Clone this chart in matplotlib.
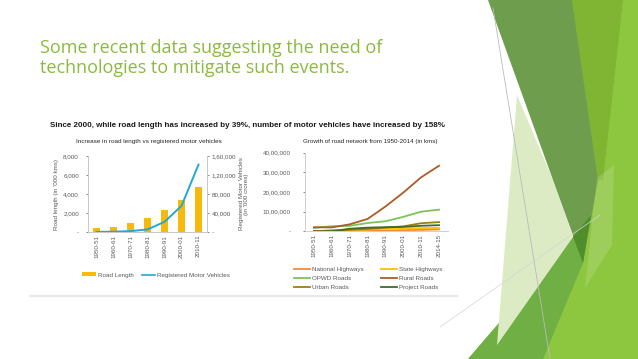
import matplotlib
matplotlib.use("Agg")
import matplotlib.pyplot as plt
from matplotlib.patches import Polygon, Patch
from matplotlib.lines import Line2D

# ---------------- data ----------------
title_text = "Some recent data suggesting the need of\ntechnologies to mitigate such events."
header_text = ("Since 2000, while road length has increased by 39%, "
               "number of motor vehicles have increased by 158%")

left_title = "Increase in road length vs registered motor vehicles"
left_years = ["1950-51", "1960-61", "1970-71", "1980-81", "1990-91", "2000-01", "2010-11"]
road_length = [400, 524, 915, 1485, 2327, 3374, 4690]            # '000 km
motor_vehicles = [306, 665, 1865, 5391, 21374, 54991, 141866]    # '000
left_yticks = [0, 2000, 4000, 6000, 8000]
left_yticklabels = ["-", "2,000", "4,000", "6,000", "8,000"]
right_yticks = [0, 40000, 80000, 120000, 160000]
right_yticklabels = ["-", "40,000", "80,000", "1,20,000", "1,60,000"]

right_title = "Growth of road network from 1950-2014 (in kms)"
right_years = ["1950-51", "1960-61", "1970-71", "1980-81", "1990-91",
               "2000-01", "2010-11", "2014-15"]
national_highways = [19811, 23798, 23838, 31671, 33650, 57737, 70934, 97991]
state_highways = [0, 0, 56765, 94359, 127311, 132100, 163898, 167109]
opwd_roads = [173723, 257125, 276833, 421895, 509435, 736001, 998895, 1101178]
rural_roads = [206408, 197194, 354530, 628865, 1260430, 1972016, 2749804, 3337255]
urban_roads = [0, 46361, 72120, 123120, 186799, 252001, 411679, 467106]
project_roads = [0, 0, 130893, 185511, 209737, 223665, 281628, 310955]
net_yticks = [0, 1000000, 2000000, 3000000, 4000000]
net_yticklabels = ["-", "10,00,000", "20,00,000", "30,00,000", "40,00,000"]

# ---------------- figure ----------------
W, H = 638, 359
fig = plt.figure(figsize=(W / 100, H / 100), dpi=100)
fig.patch.set_facecolor("white")
FONT = ["Liberation Sans", "DejaVu Sans"]
TICK_FS = 4.5
TCOL = "#595959"


def rect(x0, y0, x1, y1):
    return [x0 / W, 1 - y1 / H, (x1 - x0) / W, (y1 - y0) / H]


# background decoration
bg = fig.add_axes([0, 0, 1, 1], zorder=0)
bg.set_xlim(0, W)
bg.set_ylim(H, 0)
bg.axis("off")
polys = [
    ([(572, 0), (638, 0), (638, 359), (468, 359), (573, 237)], "#8DC63F", 1),
    ([(572, 0), (623, 0), (603, 180), (598, 180)], "#80B433", 1),
    ([(468, 359), (573, 237), (583, 263), (543, 359)], "#70AF44", 1),
    ([(517, 95), (553, 180), (573, 237), (497, 345)], "#DCEBC4", 1),
    ([(488, 0), (572, 0), (598, 180), (583, 263)], "#6E9D4E", 1),
    ([(573, 237), (591, 215), (583, 263)], "#4F8E2B", 1),
    ([(597, 178), (614, 165), (612, 245), (585, 288)], "#FFFFFF", 0.15),
]
for pts, col, a in polys:
    bg.add_patch(Polygon(pts, closed=True, facecolor=col, edgecolor="none", alpha=a))
bg.plot([493, 550], [8, 359], color="#BBBBBB", lw=0.6)
bg.plot([440, 600], [327, 215], color="#D4D4D4", lw=0.5)
bg.plot([30, 457], [296, 296], color="#E8E8E8", lw=1.6)

# slide title
fig.text(40 / W, 1 - 58 / H, title_text, fontsize=13, color="#8CBA3F",
         family=["Open Sans", "DejaVu Sans"], va="center", ha="left",
         linespacing=1.2)

# chart header
fig.text(50 / W, 1 - 125 / H, header_text, fontsize=5.8, fontweight="bold",
         color="#1A1A1A", family=FONT, va="center", ha="left")

# ---------------- left chart ----------------
ax1 = fig.add_axes(rect(88, 156, 207, 232), zorder=2)
ax1.set_facecolor("none")
xl = list(range(len(left_years)))
ax1.bar(xl, road_length, width=0.44, color="#F7BA0B", label="Road Length")
ax1.set_xlim(-0.5, len(left_years) - 0.5)
ax1.set_ylim(0, 8000)
ax1.set_yticks(left_yticks)
ax1.set_yticklabels(left_yticklabels)
ax1.set_xticks(xl)
ax1.set_xticklabels(left_years, rotation=90)
ax2 = ax1.twinx()
ax2.plot(xl, motor_vehicles, color="#22A8D5", lw=1.4, label="Registered Motor Vehicles")
ax2.set_ylim(0, 160000)
ax2.set_yticks(right_yticks)
ax2.set_yticklabels(right_yticklabels)
for a in (ax1, ax2):
    for s in a.spines.values():
        s.set_color("#C8C8C8")
        s.set_linewidth(0.6)
    a.spines["top"].set_visible(False)
    a.tick_params(labelsize=TICK_FS, colors=TCOL, length=1.5, width=0.5)
    for lab in a.get_xticklabels() + a.get_yticklabels():
        lab.set_family(FONT)
ax1.tick_params(axis="y", pad=5)
ax2.tick_params(axis="y", pad=2)
ax1.tick_params(axis="x", length=0, pad=2)
ax1.set_ylabel("Road length (in '000 kms)", fontsize=TICK_FS, color=TCOL,
               family=FONT, labelpad=3)
ax2.set_ylabel("Registered Motor Vehicles\n(in '000 crores)", fontsize=TICK_FS,
               color=TCOL, family=FONT, rotation=90, labelpad=2,
               linespacing=1.0)
fig.text(149 / W, 1 - 141 / H, left_title, fontsize=4.6, color="#262626",
         family=FONT, ha="center", va="center")
handles_l = [Patch(facecolor="#F7BA0B", edgecolor="none"),
             Line2D([], [], color="#22A8D5", lw=1.2)]
fig.legend(handles_l, ["Road Length", "Registered Motor Vehicles"],
           loc="center left", bbox_to_anchor=(79 / W, 1 - 275 / H),
           ncol=2, frameon=False, prop={"family": FONT, "size": TICK_FS},
           labelcolor=TCOL, handlelength=2.2, handleheight=0.6,
           handletextpad=0.3, columnspacing=1.3, borderpad=0)

# ---------------- right chart ----------------
ax3 = fig.add_axes(rect(305, 152.7, 448, 231.3), zorder=2)
ax3.set_facecolor("none")
xr = list(range(len(right_years)))
series = [
    ("National Highways", national_highways, "#F08C3C"),
    ("OPWD Roads", opwd_roads, "#7CC35A"),
    ("Urban Roads", urban_roads, "#A27C12"),
    ("State Highways", state_highways, "#FFC000"),
    ("Rural Roads", rural_roads, "#B05A25"),
    ("Project Roads", project_roads, "#3F6C2B"),
]
draw_order = [0, 3, 1, 2, 5, 4]
for i in draw_order:
    name, vals, col = series[i]
    ax3.plot(xr, vals, color=col, lw=1.3)
ax3.set_xlim(-0.5, len(right_years) - 0.5)
ax3.set_ylim(0, 4000000)
ax3.set_yticks(net_yticks)
ax3.set_yticklabels(net_yticklabels)
ax3.set_xticks(xr)
ax3.set_xticklabels(right_years, rotation=90)
for s in ax3.spines.values():
    s.set_color("#C8C8C8")
    s.set_linewidth(0.6)
ax3.spines["top"].set_visible(False)
ax3.spines["right"].set_visible(False)
ax3.tick_params(labelsize=TICK_FS, colors=TCOL, length=1.5, width=0.5)
ax3.tick_params(axis="y", pad=9)
ax3.tick_params(axis="x", length=0, pad=2)
for lab in ax3.get_xticklabels() + ax3.get_yticklabels():
    lab.set_family(FONT)
fig.text(370 / W, 1 - 141 / H, right_title, fontsize=4.5, color="#262626",
         family=FONT, ha="center", va="center")
handles_r = [Line2D([], [], color=c, lw=1.3) for _, _, c in series]
fig.legend(handles_r, [n for n, _, _ in series],
           loc="upper left", bbox_to_anchor=(291 / W, 1 - 264 / H),
           ncol=2, frameon=False, prop={"family": FONT, "size": TICK_FS},
           labelcolor=TCOL, handlelength=2.6, handletextpad=0.3,
           columnspacing=2.7, borderpad=0, labelspacing=0.55)

fig.savefig("out.png", dpi=100, facecolor="white")
